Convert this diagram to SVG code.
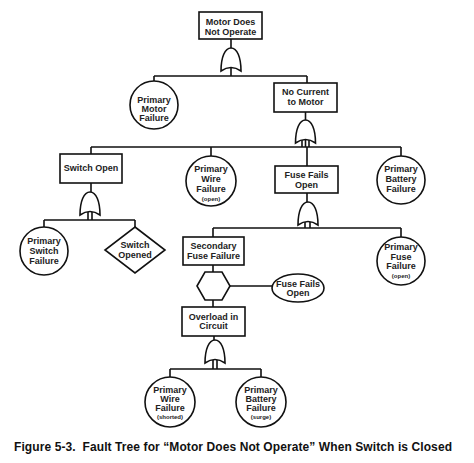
<svg xmlns="http://www.w3.org/2000/svg" width="474" height="463" viewBox="0 0 474 463">
<style>
.s{fill:#fff;stroke:#111;stroke-width:1.6}
.c{fill:none;stroke:#111;stroke-width:1.6}
text{font-family:"Liberation Sans",Arial,sans-serif;font-weight:bold;font-size:9px;fill:#222;text-anchor:middle}
.sm{font-size:6px}
.cap{font-size:12px;fill:#111;white-space:pre}
</style>
<defs>
<path id="or" class="s" d="M-10,23 C-10,9 -6,0 0,0 C6,0 10,9 10,23 Q0,16 -10,23 Z"/>
</defs>
<rect width="474" height="463" fill="#fff"/>
<g id="connectors">
<path class="c" d="M231,39V48M231,66V76M154,76H307M154,76V81M307,76V83"/>
<path class="c" d="M305.5,112V120M302,138V147M305.5,138V147M309,138V147M91,147H401M91,147V154M211,147V156M307,147V166M401,147V156"/>
<path class="c" d="M91,183V192M88,210V220M92,210V220M44,220H135M44,220V227M135,220V227"/>
<path class="c" d="M307,193V202M305,220V228M310,220V228M213,228H401M213,228V237M401,228V237"/>
<path class="c" d="M213,265V272M213,300V307M230,286H272"/>
<path class="c" d="M214,336V340M213,358V369M217,358V369M170,369H261M170,369V377M261,369V377"/>
</g>
<g id="motor-does-not-operate"><rect class="s" x="199" y="12" width="63" height="27"/><text x="230.5" y="25">Motor Does</text><text x="230.5" y="35">Not Operate</text></g>
<g id="gate-top"><use href="#or" x="231" y="48"/></g>
<g id="primary-motor-failure"><circle class="s" cx="154" cy="105" r="24"/><text x="154" y="103">Primary</text><text x="154" y="112">Motor</text><text x="154" y="121">Failure</text></g>
<g id="no-current-to-motor"><rect class="s" x="274" y="83" width="63" height="29"/><text x="305.5" y="95">No Current</text><text x="305.5" y="105">to Motor</text></g>
<g id="gate-no-current"><use href="#or" x="305.5" y="120"/></g>
<g id="switch-open"><rect class="s" x="60" y="154" width="62" height="29"/><text x="91" y="171">Switch Open</text></g>
<g id="gate-switch-open"><use href="#or" x="90" y="192"/></g>
<g id="primary-wire-failure-open"><circle class="s" cx="211" cy="181" r="25"/><text x="211" y="172">Primary</text><text x="211" y="182">Wire</text><text x="211" y="192">Failure</text><text class="sm" x="211" y="201">(open)</text></g>
<g id="fuse-fails-open"><rect class="s" x="275" y="166" width="63" height="27"/><text x="306.5" y="178">Fuse Fails</text><text x="306.5" y="188">Open</text></g>
<g id="gate-fuse"><use href="#or" x="308" y="202"/></g>
<g id="primary-battery-failure"><circle class="s" cx="401" cy="180" r="24"/><text x="401" y="172">Primary</text><text x="401" y="182">Battery</text><text x="401" y="192">Failure</text></g>
<g id="primary-switch-failure"><circle class="s" cx="44" cy="251" r="24"/><text x="44" y="244">Primary</text><text x="44" y="254">Switch</text><text x="44" y="264">Failure</text></g>
<g id="switch-opened"><polygon class="s" points="135,227 165,250 135,273 105,250"/><text x="135" y="248">Switch</text><text x="135" y="258">Opened</text></g>
<g id="secondary-fuse-failure"><rect class="s" x="183" y="237" width="61" height="28"/><text x="213.5" y="249">Secondary</text><text x="213.5" y="259">Fuse Failure</text></g>
<g id="primary-fuse-failure-open"><circle class="s" cx="401" cy="261" r="24"/><text x="401" y="250">Primary</text><text x="401" y="260">Fuse</text><text x="401" y="269">Failure</text><text class="sm" x="401" y="278">(open)</text></g>
<g id="inhibit-gate"><polygon class="s" points="197,286 205,272 222,272 230,286 222,300 205,300"/></g>
<g id="fuse-fails-open-condition"><ellipse class="s" cx="298" cy="288" rx="26" ry="14"/><text x="298" y="287">Fuse Fails</text><text x="298" y="296">Open</text></g>
<g id="overload-in-circuit"><rect class="s" x="182" y="307" width="63" height="29"/><text x="213.5" y="320">Overload in</text><text x="213.5" y="329">Circuit</text></g>
<g id="gate-overload"><use href="#or" x="215" y="340"/></g>
<g id="primary-wire-failure-shorted"><circle class="s" cx="170" cy="402" r="25"/><text x="170" y="393">Primary</text><text x="170" y="402">Wire</text><text x="170" y="411">Failure</text><text class="sm" x="170" y="419">(shorted)</text></g>
<g id="primary-battery-failure-surge"><circle class="s" cx="261" cy="402" r="25"/><text x="261" y="393">Primary</text><text x="261" y="402">Battery</text><text x="261" y="411">Failure</text><text class="sm" x="261" y="419">(surge)</text></g>
<text class="cap" x="233" y="451" xml:space="preserve" textLength="438" lengthAdjust="spacing">Figure 5-3.  Fault Tree for “Motor Does Not Operate” When Switch is Closed</text>
</svg>
